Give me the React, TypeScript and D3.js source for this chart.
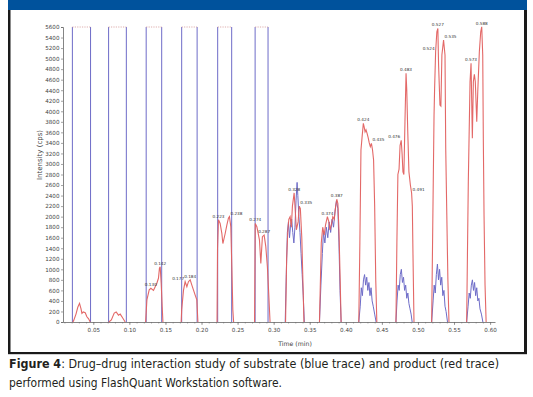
import * as d3 from "d3";
import { useEffect, useRef } from "react";

// axis ticks
const xTicks = [0.05, 0.1, 0.15, 0.2, 0.25, 0.3, 0.35, 0.4, 0.45, 0.5, 0.55, 0.6];
const yTicks = [
  0, 200, 400, 600, 800, 1000, 1200, 1400, 1600, 1800, 2000, 2200, 2400, 2600, 2800,
  3000, 3200, 3400, 3600, 3800, 4000, 4200, 4400, 4600, 4800, 5000, 5200, 5400, 5600,
];

// substrate runs that go off scale (start, end in min)
const saturatedRuns: [number, number][] = [
  [0.021, 0.0462],
  [0.0712, 0.0958],
  [0.1233, 0.1448],
  [0.1725, 0.1939],
  [0.2224, 0.2418],
  [0.2743, 0.2922],
];

// substrate (blue) once it stays on scale
const substrate: [number, number][][] = [
  [[0.316, 0], [0.3175, 900], [0.319, 1700], [0.3205, 1900], [0.322, 1600], [0.3235, 1850], [0.325, 1950], [0.3265, 1700], [0.328, 1500], [0.3295, 1800], [0.331, 2300], [0.3325, 2650], [0.3335, 2400], [0.335, 2000], [0.3365, 1700], [0.338, 1300], [0.3395, 900], [0.341, 500], [0.3425, 0]],
  [[0.3635, 0], [0.3655, 700], [0.3675, 1300], [0.369, 1700], [0.371, 1500], [0.373, 1800], [0.375, 1600], [0.377, 1900], [0.379, 1700], [0.381, 1950], [0.383, 1800], [0.385, 2100], [0.387, 2300], [0.389, 2150], [0.3905, 1500], [0.392, 600], [0.3935, 0]],
  [[0.418, 0], [0.42, 300], [0.4215, 650], [0.423, 500], [0.4245, 800], [0.426, 900], [0.4275, 700], [0.429, 850], [0.4305, 600], [0.432, 750], [0.4335, 500], [0.435, 650], [0.4365, 400], [0.438, 300], [0.44, 150], [0.442, 0]],
  [[0.4695, 0], [0.471, 400], [0.4725, 700], [0.474, 600], [0.4755, 900], [0.477, 1000], [0.4785, 750], [0.48, 850], [0.4815, 600], [0.483, 700], [0.4845, 450], [0.486, 550], [0.4875, 350], [0.489, 250], [0.4905, 150], [0.492, 0]],
  [[0.519, 0], [0.521, 400], [0.5225, 700], [0.524, 550], [0.5255, 900], [0.527, 1100], [0.5285, 800], [0.53, 1000], [0.5315, 700], [0.533, 850], [0.5345, 500], [0.536, 600], [0.5375, 300], [0.539, 200], [0.541, 0]],
  [[0.5675, 0], [0.5695, 300], [0.571, 550], [0.5725, 450], [0.574, 700], [0.5755, 800], [0.577, 600], [0.5785, 750], [0.58, 500], [0.5815, 650], [0.583, 400], [0.5845, 450], [0.586, 250], [0.588, 150], [0.59, 0]],
];

// product (red)
const product: [number, number][][] = [
  [[0.0215, 0], [0.0226, 20], [0.026, 150], [0.0285, 280], [0.0309, 355], [0.033, 250], [0.0342, 165], [0.036, 190], [0.0388, 175], [0.0411, 100], [0.0435, 60], [0.0457, 0]],
  [[0.0715, 0], [0.075, 40], [0.079, 170], [0.0817, 190], [0.0849, 130], [0.0873, 150], [0.091, 70], [0.0942, 0]],
  [[0.1225, 0], [0.1243, 420], [0.1275, 610], [0.1298, 640], [0.1334, 600], [0.1358, 670], [0.1381, 735], [0.1403, 830], [0.1417, 1020], [0.1427, 1050], [0.1441, 735], [0.1455, 290], [0.1465, 0]],
  [[0.1718, 0], [0.1725, 230], [0.175, 600], [0.1773, 765], [0.1797, 670], [0.1819, 765], [0.1843, 800], [0.1866, 700], [0.1888, 610], [0.1912, 510], [0.1935, 420], [0.195, 0]],
  [[0.2215, 0], [0.2222, 1400], [0.2235, 1940], [0.2258, 1870], [0.2282, 1680], [0.2296, 1490], [0.2328, 1680], [0.2351, 1840], [0.2373, 1970], [0.2387, 2000], [0.2406, 1810], [0.242, 1050], [0.2434, 230], [0.2445, 0]],
  [[0.2735, 0], [0.2745, 1870], [0.2767, 1810], [0.2803, 1560], [0.2822, 1110], [0.2844, 1620], [0.2868, 1650], [0.2891, 1430], [0.2913, 1050], [0.2927, 670], [0.295, 0]],
  [[0.3165, 0], [0.318, 1200], [0.3195, 1700], [0.321, 1950], [0.3228, 2000], [0.3245, 1800], [0.326, 2200], [0.3284, 2450], [0.33, 2100], [0.3315, 1750], [0.3339, 1900], [0.3355, 2200], [0.337, 2150], [0.339, 1600], [0.3405, 800], [0.342, 0]],
  [[0.3635, 0], [0.365, 900], [0.366, 1500], [0.368, 1800], [0.37, 1650], [0.372, 1850], [0.3745, 2000], [0.3765, 1900], [0.378, 1750], [0.38, 1850], [0.382, 2000], [0.384, 1950], [0.386, 2200], [0.3875, 2330], [0.389, 2250], [0.3905, 1750], [0.392, 900], [0.3935, 0]],
  [[0.418, 0], [0.4195, 1500], [0.421, 3265], [0.4225, 3500], [0.4243, 3770], [0.4255, 3700], [0.4267, 3610], [0.428, 3650], [0.4295, 3580], [0.431, 3500], [0.4325, 3400], [0.434, 3330], [0.4355, 3390], [0.437, 3270], [0.4385, 3075], [0.44, 2200], [0.4415, 800], [0.443, 0]],
  [[0.4695, 0], [0.4708, 1500], [0.4722, 2800], [0.4738, 2900], [0.4752, 3350], [0.4768, 3450], [0.478, 3200], [0.4792, 2850], [0.4805, 2800], [0.482, 3800], [0.4835, 4720], [0.4845, 4400], [0.4858, 3650], [0.4875, 2850], [0.4895, 2600], [0.4912, 2450], [0.4922, 2200], [0.4932, 1200], [0.4945, 0]],
  [[0.519, 0], [0.5205, 1800], [0.5223, 3930], [0.5231, 4435], [0.5245, 5130], [0.5262, 5510], [0.5276, 5573], [0.5286, 4880], [0.5305, 4120], [0.5318, 4100], [0.5332, 5070], [0.5355, 5350], [0.5375, 5070], [0.5385, 3300], [0.54, 2030], [0.5415, 800], [0.543, 0]],
  [[0.5675, 0], [0.5698, 2660], [0.5722, 4560], [0.5736, 4910], [0.5754, 3490], [0.5768, 4560], [0.5782, 4700], [0.5795, 4560], [0.5815, 3800], [0.5829, 4370], [0.5851, 5130], [0.587, 5510], [0.5884, 5605], [0.5898, 5070], [0.5906, 3490], [0.5916, 2030], [0.593, 700], [0.5945, 0]],
];

// retention-time labels on the product peaks
const peakLabels = [
  { t: 0.1298, v: 640, text: "0.130", side: "c" },
  { t: 0.1427, v: 1050, text: "0.142", side: "c" },
  { t: 0.1773, v: 765, text: "0.177", side: "l" },
  { t: 0.1843, v: 800, text: "0.184", side: "c" },
  { t: 0.2235, v: 1940, text: "0.223", side: "c" },
  { t: 0.2387, v: 2000, text: "0.238", side: "r" },
  { t: 0.2745, v: 1870, text: "0.274", side: "c" },
  { t: 0.2868, v: 1650, text: "0.287", side: "c" },
  { t: 0.3284, v: 2450, text: "0.328", side: "c" },
  { t: 0.3355, v: 2200, text: "0.335", side: "r" },
  { t: 0.3745, v: 2000, text: "0.374", side: "c" },
  { t: 0.3875, v: 2330, text: "0.387", side: "c" },
  { t: 0.4243, v: 3770, text: "0.424", side: "c" },
  { t: 0.4355, v: 3390, text: "0.435", side: "r" },
  { t: 0.4768, v: 3450, text: "0.476", side: "l" },
  { t: 0.4835, v: 4720, text: "0.483", side: "c" },
  { t: 0.4912, v: 2450, text: "0.491", side: "r" },
  { t: 0.5245, v: 5130, text: "0.524", side: "l" },
  { t: 0.5276, v: 5573, text: "0.527", side: "c" },
  { t: 0.5355, v: 5350, text: "0.535", side: "r" },
  { t: 0.5736, v: 4910, text: "0.573", side: "c" },
  { t: 0.5884, v: 5605, text: "0.588", side: "c" },
];

const width = 533;
const height = 397;
const margin = { top: 27, right: 38, bottom: 75, left: 63 };
const blue = "#6e6cc8";
const red = "#e2605f";

export default function App() {
  const ref = useRef<SVGSVGElement>(null);

  useEffect(() => {
    if (!ref.current) return;
    const svg = d3.select(ref.current);
    svg.selectAll("*").remove();

    // frame + header band
    svg.append("rect").attr("x", 8).attr("y", 0).attr("width", 519).attr("height", 10).attr("fill", "#00529c");
    svg.append("rect").attr("x", 8).attr("y", 10).attr("width", 2.5).attr("height", 344).attr("fill", "#1a1a1a");
    svg.append("rect").attr("x", 524).attr("y", 10).attr("width", 3).attr("height", 344).attr("fill", "#1a1a1a");
    svg.append("rect").attr("x", 8).attr("y", 352).attr("width", 519).attr("height", 2.2).attr("fill", "#1a1a1a");

    const x = d3
      .scaleLinear()
      .domain([0.008, 0.6068])
      .range([margin.left, width - margin.right]);

    const y = d3
      .scaleLinear()
      .domain([0, 5600])
      .range([height - margin.bottom, margin.top]);

    const line = d3
      .line<[number, number]>()
      .x((d) => x(d[0]))
      .y((d) => y(d[1]));

    const font = "'DejaVu Sans', Verdana, sans-serif";

    // y axis
    const ya = svg
      .append("g")
      .attr("transform", `translate(${margin.left},0)`)
      .call(d3.axisLeft(y).tickValues(yTicks).tickSize(2).tickPadding(1.5).tickFormat(d3.format("d")));
    ya.select(".domain").attr("stroke", "#666").attr("stroke-width", 0.8);
    ya.selectAll(".tick line").attr("stroke", "#666").attr("stroke-width", 0.6);
    ya.selectAll("text").attr("font-size", 5.6).attr("font-family", font).attr("fill", "#444");

    // x axis, minor ticks first
    const xa = svg.append("g").attr("transform", `translate(0,${height - margin.bottom})`);
    xa.call(d3.axisBottom(x).ticks(60).tickSize(1.6).tickFormat(() => ""));
    xa.select(".domain").remove();
    xa.selectAll(".tick line").attr("stroke", "#777").attr("stroke-width", 0.5);
    const xb = svg
      .append("g")
      .attr("transform", `translate(0,${height - margin.bottom})`)
      .call(
        d3.axisBottom(x).tickValues(xTicks).tickSize(3).tickPadding(3)
          .tickFormat((d) => d3.format(".2f")(d as number))
          .tickSizeOuter(0)
      );
    xb.select(".domain").attr("stroke", "#666").attr("stroke-width", 0.8);
    xb.selectAll(".tick line").attr("stroke", "#666").attr("stroke-width", 0.6);
    xb.selectAll("text").attr("font-size", 5.6).attr("font-family", font).attr("fill", "#444");

    // saturated substrate columns: edges + dotted ceiling
    const sat = svg.append("g");
    saturatedRuns.forEach(([a, b]) => {
      sat.append("path").attr("d", line([[a, 0], [a, 5600]])).attr("fill", "none").attr("stroke", blue).attr("stroke-width", 1);
      sat.append("path").attr("d", line([[b, 5600], [b, 0]])).attr("fill", "none").attr("stroke", blue).attr("stroke-width", 1);
      sat
        .append("path")
        .attr("d", line([[a, 5600], [b, 5600]]))
        .attr("fill", "none")
        .attr("stroke", "#d59a9a")
        .attr("stroke-width", 0.8)
        .attr("stroke-dasharray", "1.2,1.2");
    });

    svg
      .append("g")
      .selectAll("path")
      .data(substrate)
      .join("path")
      .attr("d", (d) => line(d))
      .attr("fill", "none")
      .attr("stroke", blue)
      .attr("stroke-width", 1);

    svg
      .append("g")
      .selectAll("path")
      .data(product)
      .join("path")
      .attr("d", (d) => line(d))
      .attr("fill", "none")
      .attr("stroke", red)
      .attr("stroke-width", 1.1)
      .attr("stroke-opacity", 0.95);

    svg
      .append("g")
      .selectAll("text")
      .data(peakLabels)
      .join("text")
      .attr("x", (d) => x(d.t) + (d.side === "l" ? -1 : d.side === "r" ? 1 : 0))
      .attr("y", (d) => y(d.v) - 2)
      .attr("text-anchor", (d) => (d.side === "l" ? "end" : d.side === "r" ? "start" : "middle"))
      .attr("font-size", 4.2)
      .attr("font-family", font)
      .attr("fill", "#333")
      .text((d) => d.text);

    // axis titles
    svg
      .append("text")
      .attr("transform", "translate(42,155) rotate(-90)")
      .attr("text-anchor", "middle")
      .attr("font-size", 7)
      .attr("font-family", font)
      .attr("fill", "#444")
      .text("Intensity (cps)");
    svg
      .append("text")
      .attr("x", 295)
      .attr("y", 346)
      .attr("text-anchor", "middle")
      .attr("font-size", 6.2)
      .attr("font-family", font)
      .attr("fill", "#444")
      .text("Time (min)");

    // caption
    const capFont = "'Liberation Sans Narrow', 'DejaVu Sans Condensed', 'Open Sans', sans-serif";
    const c1 = svg
      .append("text")
      .attr("x", 9)
      .attr("y", 367.5)
      .attr("font-size", 13)
      .attr("font-family", capFont)
      .attr("fill", "#231f20")
      .attr("textLength", 490)
      .attr("lengthAdjust", "spacingAndGlyphs");
    c1.append("tspan").attr("font-weight", "bold").text("Figure 4");
    c1.append("tspan").text(": Drug\u2013drug interaction study of substrate (blue trace) and product (red trace)");
    svg
      .append("text")
      .attr("x", 9)
      .attr("y", 387)
      .attr("font-size", 13)
      .attr("font-family", capFont)
      .attr("fill", "#231f20")
      .attr("textLength", 273)
      .attr("lengthAdjust", "spacingAndGlyphs")
      .text("performed using FlashQuant Workstation software.");

    return () => {
      d3.select(ref.current).selectAll("*").remove();
    };
  }, []);

  return (
    <svg
      ref={ref}
      width={width}
      height={height}
      style={{ position: "absolute", left: 0, top: 0, background: "#fff" }}
    />
  );
}
